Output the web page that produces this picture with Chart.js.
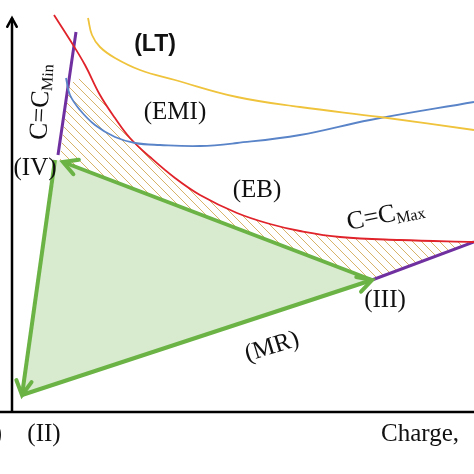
<!DOCTYPE html>
<html><head><meta charset="utf-8">
<script src="https://cdn.jsdelivr.net/npm/chart.js@4"></script>
<style>html,body{margin:0;padding:0;background:#fff}#w{width:474px;height:474px}</style>
</head><body><div id="w"><canvas id="c"></canvas></div>
<script>
const redEB=[[54,15],[70,40],[85,65],[100,95],[115,118],[130,138],[150,157],[175,178],[200,195],[237,213],[270,224],[300,231],[340,237],[400,240],[474,242]];
const yellowLT=[[88,18],[92,35],[100,47],[115,58],[140,70],[175,80],[237,97],[300,107],[380,117],[474,130]];
const blueEMI=[[66,78],[70,95],[80,110],[95,125],[115,137],[135,143],[160,145],[200,146],[237,143],[300,135],[370,120],[474,102]];
const cMin=[[76,32],[58,155]];
const cMax=[[372,280],[474,242]];
const triTop=[[372,280],[63,162]];
const triBottom=[[22,395],[372,280]];
const triLeft=[[55,160],[22,395]];
const triFill=[[57,160],[372,280],[22,395]];
const hatch=[[68,85],[60,160],[372,280],[474,242]].concat(redEB.slice().reverse().filter(p=>p[0]>92)).concat([[80,78]]);
const yAxis=[[12,412],[12,18]];
const xAxis=[[0,412],[474,412]];
const labels=[
 {t:'(LT)',x:155,y:45,f:'bold 23px "Liberation Sans"'},
 {t:'(EMI)',x:175,y:112,f:'25px "Liberation Serif"'},
 {t:'(EB)',x:257,y:190,f:'25px "Liberation Serif"'},
 {t:'(IV)',x:35,y:168,f:'25px "Liberation Serif"'},
 {t:'(III)',x:385,y:300,f:'25px "Liberation Serif"'},
 {t:'(MR)',x:272,y:347,f:'25px "Liberation Serif"',r:-0.3},
 {t:'(II)',x:44,y:434,f:'25px "Liberation Serif"'},
 {t:'Charge,',x:420,y:434,f:'25px "Liberation Serif"'},
 {t:')',x:-2,y:434,f:'25px "Liberation Serif"'}
];
const P=a=>a.map(p=>({x:p[0],y:p[1]}));
const pc=document.createElement('canvas');pc.width=9;pc.height=9;
const g=pc.getContext('2d');g.strokeStyle='#d8b36a';g.lineWidth=1;
g.beginPath();g.moveTo(0,0);g.lineTo(9,9);g.moveTo(-1,8);g.lineTo(1,10);g.moveTo(8,-1);g.lineTo(10,1);g.stroke();
const ds=(d,c,w,extra)=>Object.assign({data:P(d),borderColor:c,borderWidth:w,showLine:true,pointRadius:0,fill:false,tension:0.4},extra||{});
const fillPlugin={id:'fil',beforeDatasetsDraw(ch){
 const ctx=ch.ctx,X=ch.scales.x,Y=ch.scales.y;
 const poly=(pts,style)=>{ctx.save();ctx.fillStyle=style;ctx.beginPath();pts.forEach((p,i)=>{const x=X.getPixelForValue(p[0]),y=Y.getPixelForValue(p[1]);i?ctx.lineTo(x,y):ctx.moveTo(x,y);});ctx.closePath();ctx.fill();ctx.restore();};
 poly(triFill,'#d8ebcf');
 poly(hatch,ctx.createPattern(pc,'repeat'));
}};
const arrowPlugin={id:'arr',afterDatasetsDraw(ch){
 const ctx=ch.ctx,X=ch.scales.x,Y=ch.scales.y;
 const head=(a,b,col,len,w)=>{const x1=X.getPixelForValue(a[0]),y1=Y.getPixelForValue(a[1]),x2=X.getPixelForValue(b[0]),y2=Y.getPixelForValue(b[1]);
  const an=Math.atan2(y2-y1,x2-x1);ctx.save();ctx.strokeStyle=col;ctx.lineWidth=w;ctx.lineCap='round';ctx.beginPath();
  ctx.moveTo(x2-len*Math.cos(an-0.5),y2-len*Math.sin(an-0.5));ctx.lineTo(x2,y2);ctx.lineTo(x2-len*Math.cos(an+0.5),y2-len*Math.sin(an+0.5));ctx.stroke();ctx.restore();};
 head(triTop[0],triTop[1],'#6ab344',16,4);head(triBottom[0],triBottom[1],'#6ab344',16,4);head(triLeft[0],triLeft[1],'#6ab344',16,4);
 head(yAxis[0],yAxis[1],'#000',10,2.5);
 ctx.save();ctx.fillStyle='#111';ctx.textAlign='center';ctx.textBaseline='middle';
 labels.forEach(l=>{ctx.save();ctx.font=l.f;ctx.translate(X.getPixelForValue(l.x),Y.getPixelForValue(l.y));if(l.r)ctx.rotate(l.r);ctx.fillText(l.t,0,0);ctx.restore();});
 ctx.save();ctx.translate(X.getPixelForValue(42),Y.getPixelForValue(88));ctx.rotate(-Math.PI/2+0.05);ctx.font='26px "Liberation Serif"';ctx.textAlign='left';
 ctx.fillText('C=C',-52,0);const w=ctx.measureText('C=C').width;ctx.font='16px "Liberation Serif"';ctx.fillText('Min',-52+w,6);ctx.restore();
 ctx.save();ctx.translate(X.getPixelForValue(398),Y.getPixelForValue(213));ctx.rotate(-0.2);ctx.font='26px "Liberation Serif"';ctx.textAlign='left';
 ctx.fillText('C=C',-52,0);const w2=ctx.measureText('C=C').width;ctx.font='16px "Liberation Serif"';ctx.fillText('Max',-52+w2,6);ctx.restore();
 ctx.restore();
}};
new Chart(document.getElementById('c'),{type:'scatter',
 data:{datasets:[
  ds(yellowLT,'#efc33c',1.8),
  ds(blueEMI,'#5a84c8',1.8),
  ds(redEB,'#e0222a',1.8),
  ds(cMin,'#7030a0',3,{tension:0}),
  ds(cMax,'#7030a0',3,{tension:0}),
  ds(triTop,'#6ab344',4,{tension:0}),
  ds(triBottom,'#6ab344',4,{tension:0}),
  ds(triLeft,'#6ab344',4,{tension:0}),
  ds(yAxis,'#000',2.5,{tension:0}),
  ds(xAxis,'#000',2.5,{tension:0})
 ]},
 options:{responsive:true,maintainAspectRatio:false,animation:false,layout:{padding:0},
  plugins:{legend:{display:false},tooltip:{enabled:false}},
  scales:{x:{type:'linear',min:0,max:474,display:false},y:{type:'linear',min:0,max:474,reverse:true,display:false}}},
 plugins:[fillPlugin,arrowPlugin]});
</script></body></html>
